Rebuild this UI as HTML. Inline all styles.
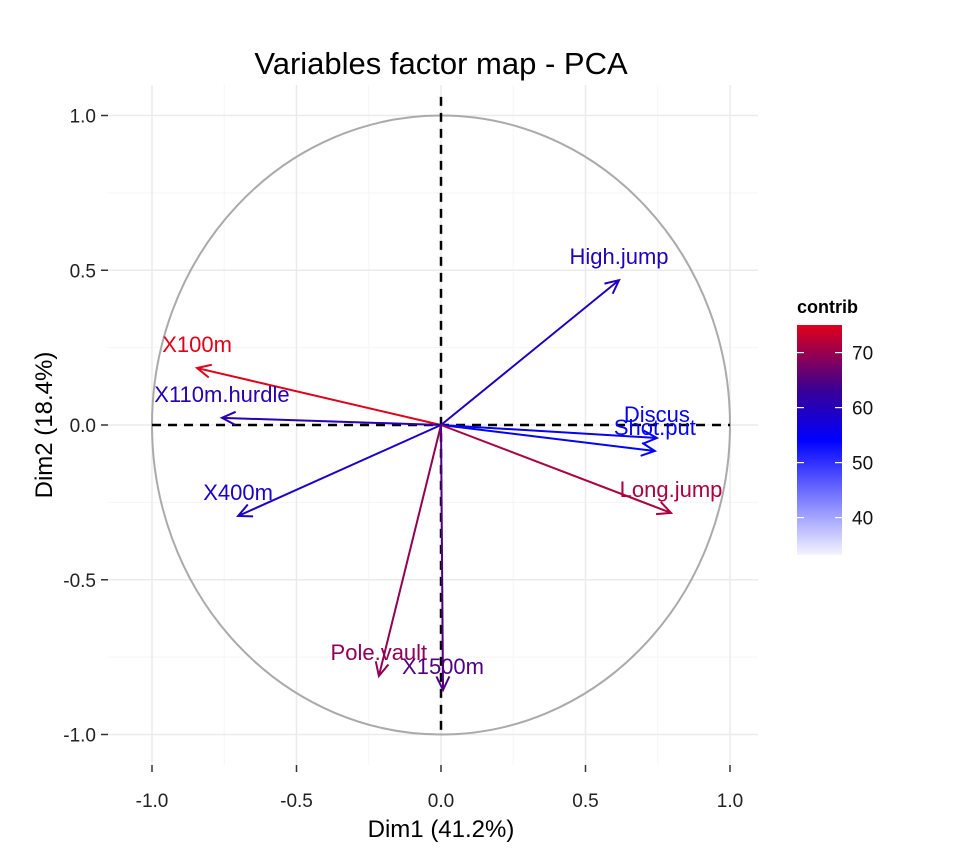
<!DOCTYPE html>
<html><head><meta charset="utf-8"><style>body{margin:0;background:#fff}svg{display:block;font-family:"Liberation Sans",sans-serif}</style></head>
<body>
<svg id="chart" width="960" height="864" viewBox="0 0 960 864">
<defs>
<linearGradient id="cg" x1="0" y1="1" x2="0" y2="0">
<stop offset="0" stop-color="#f4f4ff"/>
<stop offset="0.5" stop-color="#0000ff"/>
<stop offset="0.72" stop-color="#3a0094"/>
<stop offset="1" stop-color="#e0001a"/>
</linearGradient>
</defs>
<g id="grid"></g>
<g id="marks"></g>
<text x="441" y="74" font-size="31" text-anchor="middle">Variables factor map - PCA</text>
<text x="441" y="837" font-size="24" text-anchor="middle">Dim1 (41.2%)</text>
<text transform="translate(52,425) rotate(-90)" font-size="24" text-anchor="middle">Dim2 (18.4%)</text>
<g>
<text x="797" y="313" font-size="18" font-weight="bold">contrib</text>
<rect x="797" y="325" width="45" height="230" fill="url(#cg)"/>
<g id="legticks"></g>
</g>
</svg>
<script>
const variables=["X100m","X110m.hurdle","X400m","High.jump","Discus","Shot.put","Long.jump","Pole.vault","X1500m"];
const dim1=[-0.844,-0.758,-0.702,0.616,0.747,0.740,0.796,-0.215,0.007];
const dim2=[0.184,0.023,-0.294,0.468,-0.042,-0.084,-0.284,-0.811,-0.856];
const contrib=[75,60,58,59,55,54,71,69,64];
const axisTicks=[-1,-0.5,0,0.5,1];
const axisTickLabels=["-1.0","-0.5","0.0","0.5","1.0"];
const legendTicks=[40,50,60,70];

const NS="http://www.w3.org/2000/svg";
const X=v=>441+v*289, Y=v=>425-v*309.5;
const L=v=>555-(v-33.2)*5.5;
function el(t,a,p){const e=document.createElementNS(NS,t);for(const k in a)e.setAttribute(k,a[k]);p.appendChild(e);return e;}
function hex(c){return "#"+c.map(v=>Math.round(v).toString(16).padStart(2,"0")).join("");}
function col(v){
  const stops=[[33.2,[244,244,255]],[54.2,[0,0,255]],[62.4,[58,0,148]],[75,[224,0,26]]];
  if(v<=stops[0][0])return hex(stops[0][1]);
  for(let i=1;i<stops.length;i++){if(v<=stops[i][0]){const t=(v-stops[i-1][0])/(stops[i][0]-stops[i-1][0]);return hex(stops[i-1][1].map((a,j)=>a+(stops[i][1][j]-a)*t));}}
  return hex(stops[3][1]);
}
const g=document.getElementById("grid"), m=document.getElementById("marks");
const minor=[-0.75,-0.25,0.25,0.75];
minor.forEach(v=>{
  let a=el("line",{x1:X(v),x2:X(v),y1:85,y2:765,stroke:"#f5f5f5","stroke-width":1},g);
  
  let b=el("line",{x1:108,x2:758,y1:Y(v),y2:Y(v),stroke:"#f5f5f5","stroke-width":1},g);
  
});
axisTicks.forEach((v,i)=>{
  let a=el("line",{x1:X(v),x2:X(v),y1:85,y2:765,stroke:"#ebebeb","stroke-width":1.5},g);
  
  let b=el("line",{x1:108,x2:758,y1:Y(v),y2:Y(v),stroke:"#ebebeb","stroke-width":1.5},g);
  
  let tx=el("line",{x1:X(v),x2:X(v),y1:765,y2:772,stroke:"#333","stroke-width":1.5},g);
  
  let ty=el("line",{x1:101,x2:108,y1:Y(v),y2:Y(v),stroke:"#333","stroke-width":1.5},g);
  
  let lx=el("text",{x:X(v),y:807,"font-size":19,"text-anchor":"middle",fill:"#222"},g);lx.textContent=axisTickLabels[i];
  
  let ly=el("text",{x:96,y:Y(v)+7,"font-size":19,"text-anchor":"end",fill:"#222"},g);ly.textContent=axisTickLabels[i];
  
});
let circ=el("ellipse",{cx:X(0),cy:Y(0),rx:289,ry:309.5,fill:"none",stroke:"#aaaaaa","stroke-width":2},m);

let hz=el("line",{x1:X(-1),x2:X(1),y1:Y(0),y2:Y(0),stroke:"#000","stroke-width":2.5,"stroke-dasharray":"9,7"},m);

let vt=el("line",{x1:X(0),x2:X(0),y1:Y(1.06),y2:Y(-1),stroke:"#000","stroke-width":2.5,"stroke-dasharray":"9,7"},m);

variables.forEach((name,i)=>{
  const c=col(contrib[i]);
  const x0=X(0),y0=Y(0),x1=X(dim1[i]),y1=Y(dim2[i]);
  const ang=Math.atan2(y1-y0,x1-x0),h=15,sp=0.45;
  const grp=el("g",{},m);
  
  
  el("line",{x1:x0,y1:y0,x2:x1,y2:y1,stroke:c,"stroke-width":2},grp);
  el("polyline",{points:`${x1-h*Math.cos(ang-sp)},${y1-h*Math.sin(ang-sp)} ${x1},${y1} ${x1-h*Math.cos(ang+sp)},${y1-h*Math.sin(ang+sp)}`,fill:"none",stroke:c,"stroke-width":2},grp);
  const t=el("text",{x:x1,y:y1-16,"font-size":22,"text-anchor":"middle",fill:c},m);
  t.textContent=name;
  
  
});
const lt=document.getElementById("legticks");
legendTicks.forEach(v=>{
  let a=el("line",{x1:797,x2:804,y1:L(v),y2:L(v),stroke:"#fff","stroke-width":1.2},lt);
  
  let b=el("line",{x1:835,x2:842,y1:L(v),y2:L(v),stroke:"#fff","stroke-width":1.2},lt);
  
  let t=el("text",{x:852,y:L(v)+7,"font-size":19,fill:"#111"},lt);t.textContent=v;
  
});
</script>
</body></html>
